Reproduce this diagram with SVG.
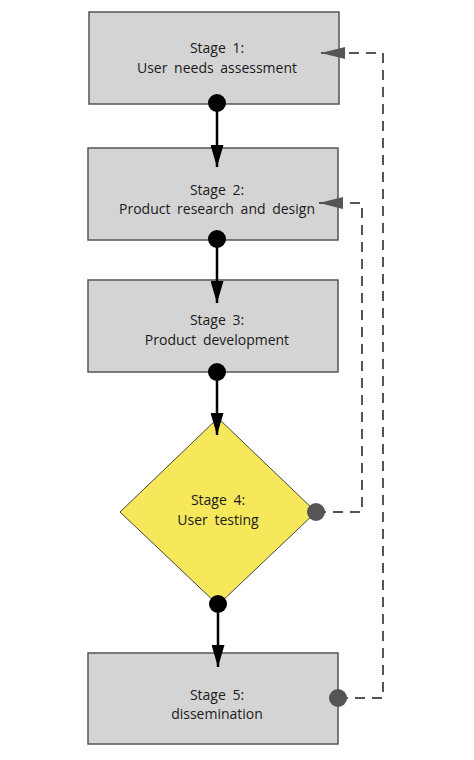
<svg xmlns="http://www.w3.org/2000/svg" width="474" height="760" viewBox="0 0 474 760">
<style>
.box{fill:#d4d4d4;stroke:#555;stroke-width:1.5}
.dia{fill:#f6e85a;stroke:#444;stroke-width:1}
.t{font-family:"Open Sans","Liberation Sans",sans-serif;font-size:14px;fill:#1a1a1a;text-anchor:middle;word-spacing:3px}
.solid{stroke:#000;stroke-width:2.5;fill:none}
.dash{stroke:#555;stroke-width:2;fill:none;stroke-dasharray:10 7}
.dot{fill:#000}
.gdot{fill:#555}
</style>
<defs>
<marker id="ah" markerWidth="22" markerHeight="13" refX="22" refY="6.5" viewBox="0 0 22 13" orient="auto" markerUnits="userSpaceOnUse">
<path d="M0,0 L22,6.5 L0,13 Z" fill="#000"/>
</marker>
<marker id="gh" markerWidth="24" markerHeight="12" refX="24" refY="6" viewBox="0 0 24 12" orient="auto" markerUnits="userSpaceOnUse">
<path d="M0,0 L24,6 L0,12 Z" fill="#555"/>
</marker>
</defs>
<rect width="474" height="760" fill="#fff"/>
<g id="node1">
<rect class="box" x="89" y="12" width="250" height="92"/>
<text class="t" x="217" y="53">Stage 1:</text>
<text class="t" x="217" y="73">User needs assessment</text>
</g>
<g id="node2">
<rect class="box" x="88" y="148" width="250" height="92"/>
<text class="t" x="217" y="195">Stage 2:</text>
<text class="t" x="217" y="214">Product research and design</text>
</g>
<g id="node3">
<rect class="box" x="88" y="280" width="250" height="92"/>
<text class="t" x="217" y="325">Stage 3:</text>
<text class="t" x="217" y="345">Product development</text>
</g>
<g id="node4">
<polygon class="dia" points="218,418 316,512 218,605 120,512"/>
<text class="t" x="218" y="505">Stage 4:</text>
<text class="t" x="218" y="525">User testing</text>
</g>
<g id="node5">
<rect class="box" x="88" y="653" width="250" height="91"/>
<text class="t" x="217" y="700">Stage 5:</text>
<text class="t" x="217" y="719">dissemination</text>
</g>
<g id="connectors">
<line class="solid" x1="217" y1="103" x2="217" y2="167" marker-end="url(#ah)"/>
<circle class="dot" cx="217" cy="103" r="9"/>
<line class="solid" x1="217" y1="239" x2="217" y2="303" marker-end="url(#ah)"/>
<circle class="dot" cx="217" cy="239" r="9"/>
<line class="solid" x1="217" y1="372" x2="217" y2="435" marker-end="url(#ah)"/>
<circle class="dot" cx="217" cy="372" r="9"/>
<line class="solid" x1="218" y1="604" x2="218" y2="667" marker-end="url(#ah)"/>
<circle class="dot" cx="218" cy="604" r="9"/>
<polyline class="dash" points="316,512 362,512 362,203 319,203" marker-end="url(#gh)"/>
<circle class="gdot" cx="316" cy="512" r="9"/>
<polyline class="dash" points="338,698 383,698 383,53 321,53" marker-end="url(#gh)"/>
<circle class="gdot" cx="338" cy="698" r="9"/>
</g>
</svg>
